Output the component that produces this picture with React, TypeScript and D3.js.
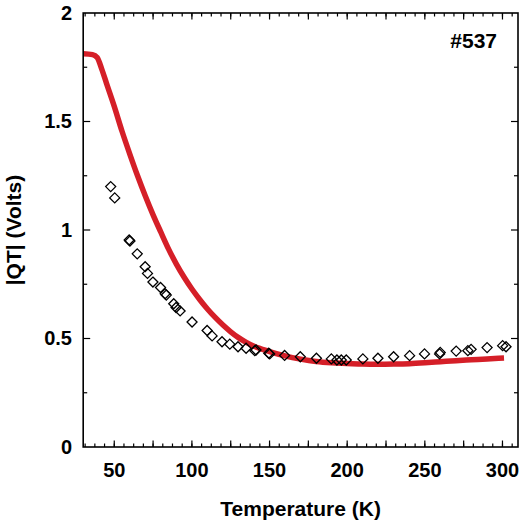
import React from 'react';
import * as d3 from 'd3';

// measured points (open diamonds): temperature K, |QT| volts
const measT = [47.7, 50.3, 59.6, 60.1, 64.8, 69.9, 71.4, 74.9, 79.8, 82.8, 83.5, 88.3, 89.8, 92.4,
  100.1, 109.8, 113, 119.4, 124.4, 129.7, 134.9, 140.5, 141.3, 149.5, 150.1, 159.7, 169.8, 180.2,
  189.8, 193.4, 196.2, 199.4, 210.1, 219.8, 229.9, 240.2, 249.8, 259.5, 259.9, 270.2, 277.7, 279.8,
  290.1, 300.1, 302.3];
const measV = [1.2, 1.148, 0.954, 0.949, 0.89, 0.831, 0.8, 0.76, 0.735, 0.706, 0.7, 0.66, 0.643, 0.627,
  0.576, 0.537, 0.512, 0.485, 0.474, 0.462, 0.455, 0.444, 0.447, 0.432, 0.429, 0.422, 0.416, 0.409,
  0.406, 0.401, 0.401, 0.401, 0.406, 0.409, 0.416, 0.421, 0.429, 0.429, 0.436, 0.442, 0.444, 0.45,
  0.458, 0.467, 0.462];

// model curve (red line)
const modelT = [30, 36, 39, 42, 45, 50, 55, 60, 65, 70, 75, 80, 85, 90, 95, 100, 105, 110, 115, 120,
  125, 130, 135, 140, 150, 160, 170, 180, 190, 200, 210, 220, 230, 240, 250, 260, 270, 280, 290, 301];
const modelV = [1.812, 1.808, 1.795, 1.74, 1.676, 1.57, 1.455, 1.35, 1.25, 1.157, 1.07, 0.99, 0.912,
  0.843, 0.782, 0.728, 0.68, 0.636, 0.597, 0.562, 0.531, 0.504, 0.482, 0.464, 0.44, 0.42, 0.405, 0.394,
  0.388, 0.385, 0.382, 0.381, 0.382, 0.384, 0.388, 0.393, 0.398, 0.402, 0.406, 0.41];

const xLabels = [50, 100, 150, 200, 250, 300];
const xMajor = [50, 75, 100, 125, 150, 175, 200, 225, 250, 275, 300];
const xMinor = d3.range(31.25, 310, 6.25);
const yLabels = [0, 0.5, 1, 1.5, 2];
const yMajor = [0.5, 1, 1.5];
const yMinor = [0.25, 0.75, 1.25, 1.75];

const FONT = "Arial, 'Liberation Sans', Helvetica, sans-serif";

const App: React.FC = () => {
  const width = 520;
  const height = 523;
  const margin = { top: 13, right: 2, bottom: 76, left: 83.2 };

  const x = d3.scaleLinear().domain([30, 310]).range([margin.left, width - margin.right]);
  const y = d3.scaleLinear().domain([0, 2]).range([height - margin.bottom, margin.top]);

  const x0 = x.range()[0], x1 = x.range()[1];
  const yTop = y(2), yBot = y(0);

  const model = modelT.map((t, i) => [t, modelV[i]] as [number, number]);
  const line = d3.line<[number, number]>()
    .x(d => x(d[0]))
    .y(d => y(d[1]))
    .curve(d3.curveMonotoneX);

  const diamond = (cx: number, cy: number, r = 5) =>
    `M${cx},${cy - r}L${cx + r},${cy}L${cx},${cy + r}L${cx - r},${cy}Z`;

  return (
    <svg width={width} height={height} style={{ position: 'absolute', left: 0, top: 0, background: '#fff' }}>
      <g stroke="#000" strokeWidth={1.2}>
        {xMinor.map(t => (
          <g key={'xm' + t}>
            <line x1={x(t)} x2={x(t)} y1={yBot} y2={yBot - 3.5} />
            <line x1={x(t)} x2={x(t)} y1={yTop} y2={yTop + 3.5} />
          </g>
        ))}
        {xMajor.map(t => (
          <g key={'xM' + t}>
            <line x1={x(t)} x2={x(t)} y1={yBot} y2={yBot - 6.5} />
            <line x1={x(t)} x2={x(t)} y1={yTop} y2={yTop + 6.5} />
          </g>
        ))}
        {yMinor.map(v => (
          <g key={'ym' + v}>
            <line x1={x0} x2={x0 + 4} y1={y(v)} y2={y(v)} />
            <line x1={x1} x2={x1 - 4} y1={y(v)} y2={y(v)} />
          </g>
        ))}
        {yMajor.map(v => (
          <g key={'yM' + v}>
            <line x1={x0} x2={x0 + 7} y1={y(v)} y2={y(v)} />
            <line x1={x1} x2={x1 - 7} y1={y(v)} y2={y(v)} />
          </g>
        ))}
      </g>

      <path d={line(model) || ''} fill="none" stroke="#d51f28" strokeWidth={5.5} strokeLinejoin="round" />

      <g fill="none" stroke="#000" strokeWidth={1.3}>
        {measT.map((t, i) => (
          <path key={'p' + i} d={diamond(x(t), y(measV[i]))} />
        ))}
      </g>

      <rect x={x0} y={yTop} width={x1 - x0} height={yBot - yTop} fill="none" stroke="#000" strokeWidth={1.6} />

      <g fontFamily={FONT} fontWeight="bold" fontSize={20} fill="#000">
        {xLabels.map(t => (
          <text key={'xl' + t} x={x(t)} y={477} textAnchor="middle">{t}</text>
        ))}
        {yLabels.map(v => (
          <text key={'yl' + v} x={72} y={y(v) + 6.5} textAnchor="end">{v}</text>
        ))}
        <text x={(x0 + x1) / 2} y={516} textAnchor="middle" fontSize={21}>Temperature (K)</text>
        <text transform={`translate(20.5,${(yTop + yBot) / 2}) rotate(-90)`} textAnchor="middle" fontSize={21}>|QT| (Volts)</text>
        <text x={497} y={48} textAnchor="end" fontSize={21}>#537</text>
      </g>
    </svg>
  );
};

export default App;
